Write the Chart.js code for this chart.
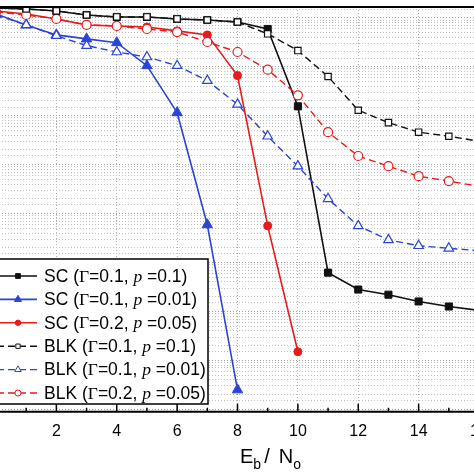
<!DOCTYPE html>
<html>
<head>
<meta charset="utf-8">
<script src="https://cdn.jsdelivr.net/npm/chart.js@4.4.0/dist/chart.umd.min.js"></script>
<style>
html,body{margin:0;padding:0;background:#fff;overflow:hidden;width:474px;height:474px}
#wrap{position:absolute;left:-14px;top:0;width:514px;height:474px}
</style>
</head>
<body>
<div id="wrap"><canvas id="myChart"></canvas></div>
<script>
// Eb/No values (x) and the six curves (log y)
const ebno = [0,1,2,3,4,5,6,7,8,9,10,11,12,13,14,15,16];
const scG01p01   = [1.58,1.51,1.38,1.14,1.04,1.04,0.946,0.90,0.82,0.59,0.0155,6.2e-6,2.8e-6,2.2e-6,1.6e-6,1.26e-6,1.05e-6];
const scG01p001  = [1.2,0.714,0.447,0.37,0.31,0.105,0.0115,5.9e-5,2.5e-8];
const scG02p005  = [1.38,1.19,0.946,0.714,0.68,0.65,0.54,0.447,0.066,5.6e-5,1.5e-7];
const blkG01p01  = [1.58,1.51,1.38,1.14,1.04,1.04,0.946,0.90,0.82,0.47,0.214,0.063,0.0129,0.0072,0.0046,0.0038,0.0030];
const blkG01p001 = [1.14,0.714,0.43,0.27,0.20,0.158,0.105,0.052,0.017,0.0038,9.3e-4,2.0e-4,5.6e-5,2.9e-5,2.2e-5,1.95e-5,1.74e-5];
const blkG02p005 = [1.32,1.14,0.946,0.714,0.68,0.59,0.51,0.32,0.20,0.087,0.026,0.0046,0.0015,9.3e-4,5.8e-4,4.6e-4,3.6e-4];
const seriesLabels = ['SC (Γ=0.1, p =0.1)','SC (Γ=0.1, p =0.01)','SC (Γ=0.2, p =0.05)',
                      'BLK (Γ=0.1, p =0.1)','BLK (Γ=0.1, p =0.01)','BLK (Γ=0.2, p =0.05)'];
const xTicks = [2,4,6,8,10,12,14,16];

const BLACK = '#111111', BLUE = '#2b44d8', RED = '#e81a1a';

function pts(vals) {
  return vals.map((v, i) => ({x: ebno[i], y: v}));
}

function sc(i, vals, color, style, r) {
  return {label: seriesLabels[i], data: pts(vals), borderColor: color, backgroundColor: color,
    borderWidth: 1.6, pointStyle: style, pointRadius: r, pointBorderWidth: 1,
    pointBackgroundColor: color, pointBorderColor: color, order: 2};
}
function blk(i, vals, color, style, r) {
  return {label: seriesLabels[i], data: pts(vals), borderColor: color, backgroundColor: color,
    borderWidth: 1.4, borderDash: [7,4], pointStyle: style, pointRadius: r, pointBorderWidth: 1.2,
    pointBackgroundColor: '#fff', pointBorderColor: color, order: 1};
}

const datasets = [
  sc(0, scG01p01, BLACK, 'rect', 5),
  sc(1, scG01p001, BLUE, 'triangle', 6),
  sc(2, scG02p005, RED, 'circle', 4),
  blk(3, blkG01p01, BLACK, 'rect', 4.5),
  blk(4, blkG01p001, BLUE, 'triangle', 5.5),
  blk(5, blkG02p005, RED, 'circle', 4.5)
];

function richText(ctx, str, x, y, size) {
  str.split(/(Γ|p(?= =))/).forEach(s => {
    if (!s) return;
    if (s === 'Γ') ctx.font = size + 'px "Liberation Serif"';
    else if (s === 'p') ctx.font = 'italic ' + size + 'px "Liberation Serif"';
    else ctx.font = size + 'px "Liberation Sans"';
    ctx.fillText(s, x, y);
    x += ctx.measureText(s).width;
  });
}

// frame, inward ticks, legend box and axis title
const deco = {
  id: 'deco',
  afterDraw(chart) {
    const ctx = chart.ctx, a = chart.chartArea, xs = chart.scales.x;
    ctx.save();
    ctx.strokeStyle = '#000';
    ctx.lineWidth = 2;
    ctx.beginPath();
    ctx.moveTo(a.left, a.top); ctx.lineTo(a.right + 20, a.top);
    ctx.moveTo(a.left, a.bottom); ctx.lineTo(a.right + 20, a.bottom);
    ctx.stroke();
    ctx.lineWidth = 1.5;
    ctx.beginPath();
    xs.ticks.forEach(t => {
      const px = xs.getPixelForValue(t.value);
      const len = t.value % 2 === 0 ? 8 : 4;
      ctx.moveTo(px, a.bottom); ctx.lineTo(px, a.bottom - len);
    });
    ctx.stroke();

    // legend
    ctx.fillStyle = '#fff';
    ctx.fillRect(-5, 259, 227, 145);
    ctx.lineWidth = 1.5;
    ctx.strokeStyle = '#000';
    ctx.strokeRect(-5, 259, 227, 145);
    chart.data.datasets.forEach((ds, i) => {
      const y = 276 + i * 23.4;
      ctx.save();
      ctx.strokeStyle = ds.borderColor;
      ctx.lineWidth = ds.borderWidth;
      ctx.setLineDash(ds.borderDash || []);
      ctx.beginPath(); ctx.moveTo(0, y); ctx.lineTo(51, y); ctx.stroke();
      ctx.setLineDash([]);
      ctx.fillStyle = ds.pointBackgroundColor;
      ctx.strokeStyle = ds.pointBorderColor;
      ctx.lineWidth = 1;
      Chart.helpers.drawPoint(ctx, {pointStyle: ds.pointStyle, radius: ds.pointRadius * 0.68, rotation: 0, borderWidth: 1}, 32, y);
      ctx.restore();
      ctx.fillStyle = '#000';
      ctx.textBaseline = 'middle';
      richText(ctx, ds.label, 58, y + 1, 17.5);
    });

    // x title  E_b / N_o
    ctx.fillStyle = '#000';
    ctx.textBaseline = 'alphabetic';
    let x = 254;
    ctx.font = '20px "Liberation Sans"';
    ctx.fillText('E', x, 463); x += ctx.measureText('E').width;
    ctx.font = '14px "Liberation Sans"';
    ctx.fillText('b', x, 469); x += ctx.measureText('b').width + 3;
    ctx.font = '20px "Liberation Sans"';
    ctx.fillText('/', x, 463); x += ctx.measureText('/').width + 9;
    ctx.fillText('N', x, 463); x += ctx.measureText('N').width;
    ctx.font = '14px "Liberation Sans"';
    ctx.fillText('o', x, 469);
    ctx.restore();
  }
};

const ctx = document.getElementById('myChart');

new Chart(ctx, {
  type: 'line',
  data: {datasets: datasets},
  options: {
    responsive: true,
    maintainAspectRatio: false,
    animation: false,
    layout: {padding: {left: 0, right: 21, top: 3, bottom: 23}},
    plugins: {legend: {display: false}, tooltip: {enabled: false}},
    scales: {
      x: {
        type: 'linear', min: 0, max: 16,
        border: {display: false, dash: [1, 2]},
        grid: {drawTicks: false, lineWidth: 1,
          color: c => (c.tick && xTicks.includes(c.tick.value)) ? '#b0b0b0' : 'rgba(0,0,0,0)'},
        ticks: {stepSize: 1, autoSkip: false, maxRotation: 0, padding: 10, color: '#000',
          font: {family: '"Liberation Sans", Arial', size: 16},
          callback: v => xTicks.includes(v) ? String(v) : ''}
      },
      y: {
        type: 'logarithmic', min: 8.9e-9, max: 1.66,
        border: {display: false, dash: [1, 2]},
        grid: {drawTicks: false, lineWidth: 1,
          color: c => {
            if (!c.tick) return '#c0c0c0';
            const m = c.tick.value / Math.pow(10, Math.floor(Math.log10(c.tick.value) + 1e-9));
            return Math.abs(m - 1) < 1e-6 ? '#a0a0a0' : '#c0c0c0';
          }},
        ticks: {display: false}
      }
    }
  },
  plugins: [deco]
});
</script>
</body>
</html>
